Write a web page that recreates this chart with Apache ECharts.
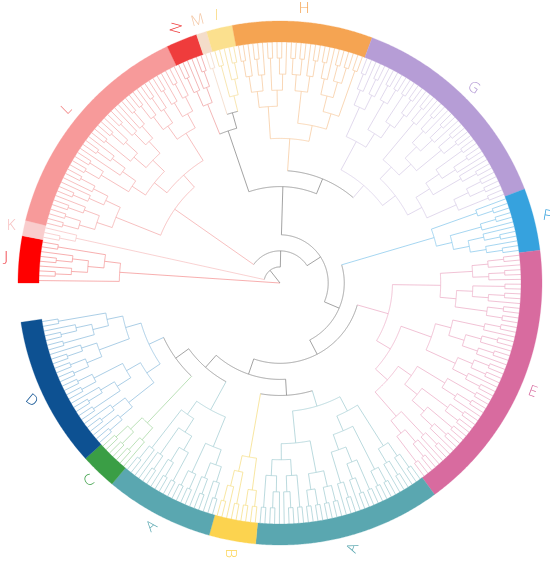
<!DOCTYPE html>
<html><head><meta charset="utf-8">
<script src="https://cdn.jsdelivr.net/npm/echarts@6/dist/echarts.min.js"></script>
<style>html,body{margin:0;padding:0;background:#fff}#c{width:550px;height:561px}</style>
</head><body><div id="c"></div>
<script>
// ---------- data ----------
const cladeNames = ['J','K','L','N','M','I','H','G','F','E','A','B','A','C','D'];
// clade topologies (Newick, unnamed tips), clockwise order starting at the left (J)
const cladeTrees = [
  '(,((((,),),((,),)),(,)))',
  '((,),)',
  '(((((,),(,)),((,),)),(((,),),(,(,)))),(((((,),(,)),(,((,),))),(((,),((,),)),(((,),),(,(,))))),((((,),),((,),)),(((,),),((,),)))))',
  '(((,),),(,(,)))',
  '(,)',
  '((,),(,(,)))',
  '(((((,),),((,),)),((,),((,),))),((((,),(,)),(,(,))),((((,),),((,),(,))),(,))))',
  '(((((,),),((,),)),(((,),(,)),((,),((,),)))),((((,),),((((,),),((,),)),((,),(,)))),((((,),((,),)),(,(,))),(((,),(,)),(,)))))',
  '((,(,)),(((,),),((,(,)),(,(,)))))',
  '(((((,),),((,),)),(((,),((,),)),((,),(,)))),(((((,),),(((,),),((,),))),(((,),(,)),(,(,)))),((((,),((,),)),(((,),(,)),((,),((,),)))),(((,),),((,(,)),(,))))))',
  '(((((,),),((,),)),(((,),(,)),(((,),((,),)),((,),)))),((((,),(,)),((,),(,))),(((,),((,),)),((,(,)),(,)))))',
  '(((,),(,)),((,),(,(,))))',
  '(((((,),),((,),)),((,),(,))),((((,),((,),)),((,),)),(,(,))))',
  '((,(,)),((,),(,)))',
  '(((((,),),((,),)),(((,),((,),)),((,),(,)))),((((,),(,)),((,),)),(((,),((,),)),(,))))'
];
// how the clades join (tips are clade indices)
const backboneTree = '(0,(1,(2,(((3,(4,5)),(6,7)),(8,(9,((10,11),(12,(13,14)))))))))';
const gapSlots = 7.5; // empty tip slots in the open sector

// ---------- styles ----------
const bandColors  = ['#ff0000','#f9cdcd','#f79a9a','#ef3c3c','#f4ddca','#fbe08e','#f5a452','#b69dd6','#36a2de','#d86b9f','#5aa7b0','#fcd34f','#5aa7b0','#3a9e45','#0d5192'];
const lineColors  = ['#f59a9a','#f8c6c6','#f5b0b0','#f0a4a4','#f3d9c6','#f6e09e','#f8cda3','#d9cfe8','#8fcbed','#eeb2ca','#a9d0d5','#f6df8a','#a9d0d5','#a9d9a6','#95c2e0'];
const labelColors = ['#ee1c25','#f7c0c0','#f28484','#ee3b3b','#f4c8a6','#f9d77a','#f5a452','#b69dd6','#36a2de','#d76a9e','#5aa7b0','#fcd34f','#5aa7b0','#3a9e45','#0d5192'];
const labelRotations = [0,0,45,75,15,0,0,-35,-10,-20,70,-90,40,30,-40];
const backboneColor = '#8c8c8c';
const TIP_R = 241, BAND_R = 262, LABEL_R = 275, POLAR_R = 300;

// ---------- tree building ----------
function parseNewick(s) {
  let i = 0;
  function node() {
    const n = { children: [], name: '' };
    if (s[i] === '(') {
      i++;
      n.children.push(node());
      while (s[i] === ',') { i++; n.children.push(node()); }
      if (s[i] === ')') i++;
    }
    let name = '';
    while (i < s.length && !'(),;'.includes(s[i])) name += s[i++];
    n.name = name.trim();
    return n;
  }
  return node();
}
function mark(n, ci) { n.clade = ci; n.children.forEach(c => mark(c, ci)); }
function build(n) {
  if (!n.children.length) {
    const ci = +n.name;
    const t = parseNewick(cladeTrees[ci]);
    mark(t, ci);
    return t;
  }
  n.clade = -1;
  n.children = n.children.map(build);
  return n;
}
const root = build(parseNewick(backboneTree));
let leafCount = 0;
const cladeRange = cladeNames.map(() => [Infinity, -Infinity]);
function layout(n) {
  if (!n.children.length) {
    n.h = 0; n.a = leafCount + 0.5;
    cladeRange[n.clade][0] = Math.min(cladeRange[n.clade][0], leafCount);
    cladeRange[n.clade][1] = Math.max(cladeRange[n.clade][1], leafCount + 1);
    leafCount++;
  } else {
    n.children.forEach(layout);
    n.h = 1 + Math.max(...n.children.map(c => c.h));
    n.a0 = n.children[0].a; n.a1 = n.children[n.children.length - 1].a;
    n.a = (n.a0 + n.a1) / 2;
  }
}
layout(root);
const H = root.h;
const nodeData = [];
function collect(n, pr) {
  const r = TIP_R * (H - n.h) / H;
  const leaf = !n.children.length;
  nodeData.push([r, n.a, pr, leaf ? n.a : n.a0, leaf ? n.a : n.a1, n.clade]);
  n.children.forEach(c => collect(c, r));
}
collect(root, 0);
const bandData = cladeRange.map((rg, ci) => [TIP_R, rg[0], rg[1], ci]);
const labelData = cladeRange.map((rg, ci) => [LABEL_R, (rg[0] + rg[1]) / 2, ci]);

function arcPoints(api, r, a0, a1) {
  const pts = [];
  const n = Math.max(2, Math.ceil(Math.abs(a1 - a0) / 0.25));
  for (let k = 0; k <= n; k++) pts.push(api.coord([r, a0 + (a1 - a0) * k / n]));
  return pts;
}

const chart = echarts.init(document.getElementById('c'), null, { renderer: 'canvas' });
chart.setOption({
  animation: false,
  backgroundColor: '#ffffff',
  polar: { center: [280, 283], radius: POLAR_R },
  angleAxis: { type: 'value', min: 0, max: leafCount + gapSlots, startAngle: 180, clockwise: true, show: false },
  radiusAxis: { type: 'value', min: 0, max: POLAR_R, show: false },
  series: [
    {
      type: 'custom', coordinateSystem: 'polar', clip: false, silent: true,
      data: nodeData,
      renderItem: function (params, api) {
        const r = api.value(0), a = api.value(1), pr = api.value(2), a0 = api.value(3), a1 = api.value(4), ci = api.value(5);
        const color = ci < 0 ? backboneColor : lineColors[ci];
        const p1 = api.coord([pr, a]), p2 = api.coord([r, a]);
        const children = [{ type: 'line', shape: { x1: p1[0], y1: p1[1], x2: p2[0], y2: p2[1] }, style: { stroke: color, lineWidth: 0.8 } }];
        if (a1 > a0) children.push({ type: 'polyline', shape: { points: arcPoints(api, r, a0, a1) }, style: { stroke: color, fill: null, lineWidth: 0.8 } });
        return { type: 'group', children: children };
      }
    },
    {
      type: 'custom', coordinateSystem: 'polar', clip: false, silent: true,
      data: bandData,
      renderItem: function (params, api) {
        const s = api.value(1), e = api.value(2), ci = api.value(3);
        const pts = arcPoints(api, TIP_R, s, e).concat(arcPoints(api, BAND_R, e, s));
        return { type: 'polygon', shape: { points: pts }, style: { fill: bandColors[ci], stroke: bandColors[ci], lineWidth: 0.3 } };
      }
    },
    {
      type: 'custom', coordinateSystem: 'polar', clip: false, silent: true,
      data: labelData,
      renderItem: function (params, api) {
        const ci = api.value(2);
        const p = api.coord([api.value(0), api.value(1)]);
        return {
          type: 'text', x: p[0], y: p[1], rotation: labelRotations[ci] * Math.PI / 180,
          style: { text: cladeNames[ci], fill: labelColors[ci], fontSize: 15, fontFamily: 'Open Sans', fontWeight: 300, align: 'center', verticalAlign: 'middle' }
        };
      }
    }
  ]
});
</script></body></html>
